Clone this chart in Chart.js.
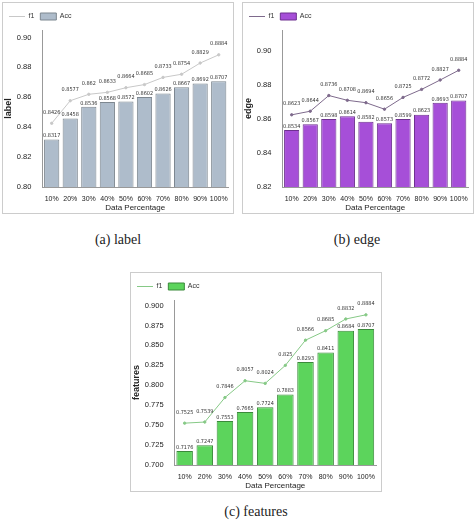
<!DOCTYPE html>
<html><head><meta charset="utf-8">
<script src="https://cdn.jsdelivr.net/npm/chart.js@4"></script>
<style>
body{margin:0;background:#fff;width:474px;height:524px;position:relative;overflow:hidden}
.w{position:absolute;border:1px solid #ccc;background:#fff}
.cap{position:absolute;font-family:"Liberation Serif",serif;font-size:14px;color:#222;text-align:center}
</style></head><body>
<div class="w" style="left:2px;top:2px;width:230px;height:210px"><canvas id="a"></canvas></div>
<div class="w" style="left:242px;top:2px;width:230px;height:210px"><canvas id="b"></canvas></div>
<div class="w" style="left:130px;top:272px;width:250px;height:218px"><canvas id="c"></canvas></div>
<div class="cap" style="left:0;top:232px;width:236px">(a) label</div>
<div class="cap" style="left:240px;top:232px;width:234px">(b) edge</div>
<div class="cap" style="left:130px;top:504px;width:252px">(c) features</div>
<script>
const categories=["10%","20%","30%","40%","50%","60%","70%","80%","90%","100%"];
const labelF1=[0.8426,0.8577,0.862,0.8633,0.8664,0.8685,0.8733,0.8754,0.8829,0.8884];
const labelAcc=[0.8317,0.8458,0.8536,0.8568,0.8572,0.8602,0.8626,0.8667,0.8692,0.8707];
const edgeF1=[0.8623,0.8644,0.8736,0.8708,0.8694,0.8656,0.8725,0.8772,0.8827,0.8884];
const edgeAcc=[0.8534,0.8567,0.8598,0.8614,0.8582,0.8573,0.8599,0.8623,0.8693,0.8707];
const featF1=[0.7525,0.7539,0.7846,0.8057,0.8024,0.825,0.8566,0.8685,0.8832,0.8884];
const featAcc=[0.7176,0.7247,0.7553,0.7665,0.7724,0.7883,0.8293,0.8411,0.8684,0.8707];
const labelsPlugin={id:'vl',afterDatasetsDraw(ch){const c=ch.ctx;c.save();c.font='5.5px "DejaVu Sans Condensed",sans-serif';c.fillStyle='#333';c.textAlign='center';c.textBaseline='bottom';
ch.data.datasets.forEach((ds,i)=>{ch.getDatasetMeta(i).data.forEach((el,j)=>{const off=ds.type==='line'?8:1;c.fillText(String(ds.data[j]),el.x,el.y-off);});});c.restore();}};
function make(id,f1,acc,name,min,max,step,dec,bar,edge,line){
 new Chart(document.getElementById(id),{type:'bar',
 data:{labels:categories,datasets:[
  {type:'line',label:'f1',data:f1,borderColor:line,backgroundColor:line,borderWidth:1,pointRadius:1.2,pointStyle:'circle',order:0},
  {label:'Acc',data:acc,backgroundColor:bar,borderColor:edge,borderWidth:1,categoryPercentage:1,barPercentage:0.82,order:1}]},
 options:{responsive:true,maintainAspectRatio:false,animation:false,
  layout:{padding:{top:4,right:4}},
  plugins:{legend:{position:'top',align:'start',labels:{boxWidth:14,boxHeight:7,font:{size:7},color:'#333',padding:6,
   generateLabels(ch){return ch.data.datasets.map((d,i)=>({text:d.label,datasetIndex:i,fillStyle:d.backgroundColor,strokeStyle:d.type==='line'?d.borderColor:d.borderColor,lineWidth:1,pointStyle:d.type==='line'?'line':'rect',fontColor:'#333'}));},
   usePointStyle:true,pointStyleWidth:16}}},
  scales:{
   x:{grid:{display:false},border:{color:'#999'},ticks:{font:{size:7},color:'#222',maxRotation:0,autoSkip:false,padding:0},
      title:{display:true,text:'Data Percentage',font:{size:8},color:'#222',padding:0}},
   y:{min:min,max:max,grid:{display:false},border:{color:'#999'},
      afterBuildTicks(ax){const t=[];for(let v=min;v<=max+1e-9;v+=step)t.push({value:+v.toFixed(4)});ax.ticks=t;},
      ticks:{font:{size:7.5},color:'#222',callback:v=>v.toFixed(dec)},
      title:{display:true,text:name,font:{size:9,weight:'bold'},color:'#222',padding:0}}}},
 plugins:[labelsPlugin]});
}
make('a',labelF1,labelAcc,'label',0.80,0.905,0.02,2,'#aebccb','#7d8790','#c8c8c8');
make('b',edgeF1,edgeAcc,'edge',0.82,0.912,0.02,2,'#a64fd8','#6e3190','#7e6a8c');
make('c',featF1,featAcc,'features',0.70,0.907,0.025,3,'#5cd45c','#3a8a3a','#86c986');
</script></body></html>
